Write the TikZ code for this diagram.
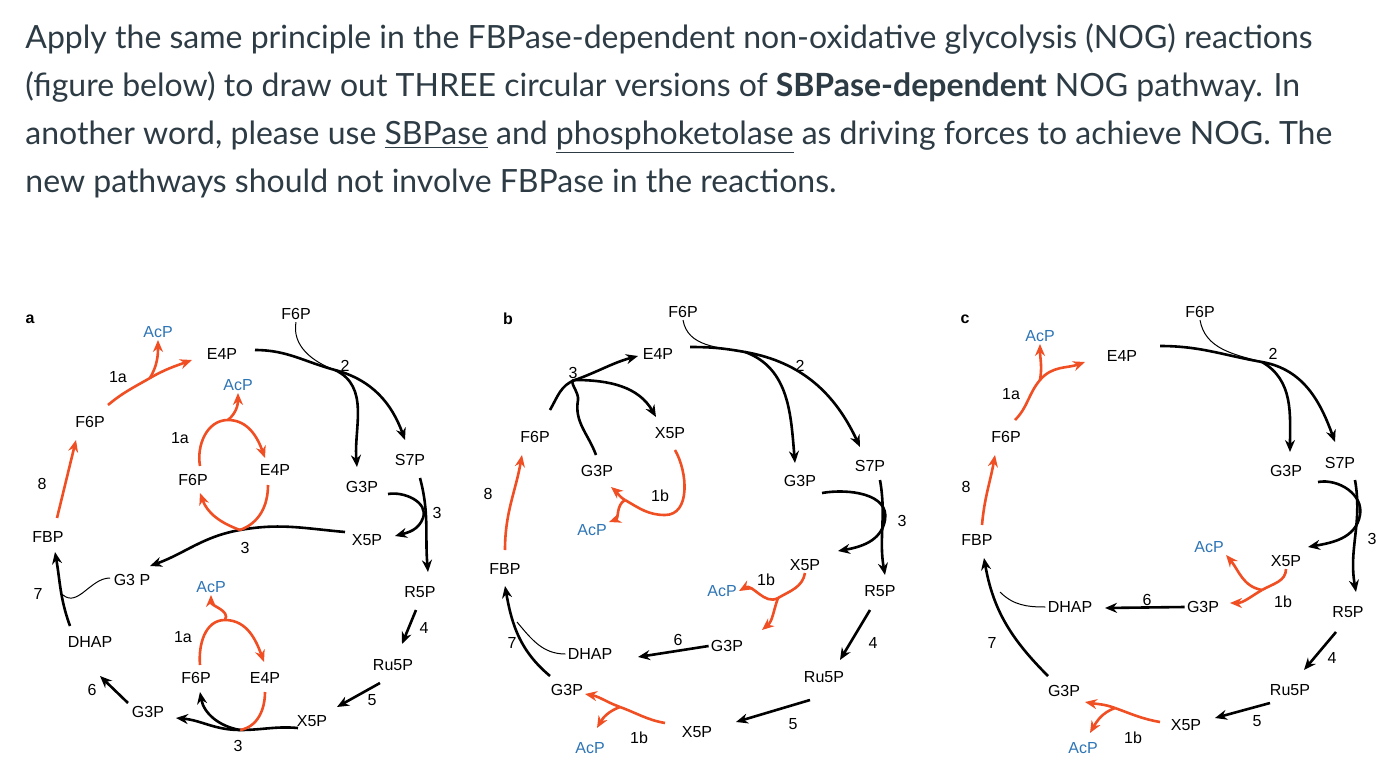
\documentclass[tikz,border=0pt]{standalone}
\usepackage{fontspec}
\setmainfont{Lato}
\newfontfamily\lab{Liberation Sans}
\usetikzlibrary{arrows.meta}
\definecolor{org}{HTML}{F04E23}
\definecolor{acb}{HTML}{2E75B6}
\definecolor{txt}{HTML}{2D3B45}
\begin{document}
\begin{tikzpicture}[x=0.5pt,y=-0.5pt,
  t/.style={font=\lab\fontsize{8}{9}\selectfont,inner sep=1pt},
  ac/.style={t,text=acb},
  pl/.style={font=\lab\bfseries\fontsize{8}{9}\selectfont,inner sep=0pt},
  ttl/.style={anchor=base west,inner sep=0pt,text=txt,font=\fontsize{16}{18}\selectfont},
  blk/.style={line width=1.3pt,-{Stealth[length=6pt,width=5pt]}},
  blkn/.style={line width=1.3pt},
  orn/.style={line width=1.3pt,draw=org,-{Stealth[length=6pt,width=5pt]}},
  ornn/.style={line width=1.3pt,draw=org},
  thin/.style={line width=0.5pt}]
\useasboundingbox (0,0) rectangle (1388,776);
\fill[white] (0,0) rectangle (1388,776);
% title
\node[ttl] (l1) at (25,48) {Apply the same principle in the FBPase-dependent non-oxidative glycolysis (NOG) reactions};
\node[ttl] (l2) at (25,96) {(figure below) to draw out THREE circular versions of \textbf{SBPase-dependent} NOG pathway. In};
\node[ttl] (l3) at (25,144) {another word, please use \underline{SBPase} and \underline{phosphoketolase} as driving forces to achieve NOG. The};
\node[ttl] (l4) at (25,192) {new pathways should not involve FBPase in the reactions.};
% ================= panel a
\node[pl] (pa) at (30,319) {a};
\node[ac] (aAc1) at (158,332) {AcP};
\node[t] (aE1) at (222,354) {E4P};
\node[t] (aFt) at (296,314) {F6P};
\node[t] (a2) at (345,366) {2};
\node[t] (a1a1) at (118,377) {1a};
\node[ac] (aAc2) at (238,385) {AcP};
\node[t] (aF1) at (90,422) {F6P};
\node[t] (a1a2) at (180,438) {1a};
\node[t] (aF2) at (193,480) {F6P};
\node[t] (aE2) at (275,470) {E4P};
\node[t] (aS7) at (410,460) {S7P};
\node[t] (aG1) at (362,487) {G3P};
\node[t] (a8) at (42,484) {8};
\node[t] (a3a) at (437,513) {3};
\node[t] (aFBP) at (48,537) {FBP};
\node[t] (aX1) at (367,540) {X5P};
\node[t] (a3b) at (245,548) {3};
\node[t] (aG2) at (132,580) {G3 P};
\node[t] (a7) at (38,594) {7};
\node[ac] (aAc3) at (211,587) {AcP};
\node[t] (aR5) at (420,592) {R5P};
\node[t] (a1a3) at (183,637) {1a};
\node[t] (a4) at (424,628) {4};
\node[t] (aDH) at (90,642) {DHAP};
\node[t] (aF3) at (196,678) {F6P};
\node[t] (aE3) at (265,678) {E4P};
\node[t] (aRu) at (393,665) {Ru5P};
\node[t] (a6) at (92,690) {6};
\node[t] (a5) at (372,700) {5};
\node[t] (aG3) at (148,712) {G3P};
\node[t] (aX2) at (312,721) {X5P};
\node[t] (a3c) at (238,746) {3};
\coordinate (aj2) at (335,370);
\draw[blkn] (255,350) to[out=0,in=165] (aj2);
\draw[blk] (aj2) to[out=-15,in=110] (405,440);
\draw[blk] (aj2) to[out=-25,in=95] (357,467);
\draw[thin] (aFt.south) to[out=-100,in=160] (aj2);
\draw[blk] (420,478) to[out=-75,in=95] (428,572);
\draw[blk] (388,494) to[out=10,in=70] (423,518) to[out=-110,in=15] (395,536);
\coordinate (aj3) at (240,530);
\draw[blk] (345,532) to[out=175,in=10] (aj3) to[out=-170,in=20] (150,566);
\draw[blk] (416,610) -- (402,644);
\draw[blk] (380,683) -- (337,707);
\coordinate (aj4) at (240,730);
\draw[blk] (298,728) to[out=175,in=0] (aj4) to[out=180,in=-5] (176,718);
\draw[blk] (128,703) -- (100,676);
\draw[blk] (70,626) to[out=110,in=-80] (55,552);
\draw[thin] (110,578) to[out=180,in=-40] (63,595);
\draw[orn] (57,518) -- (76,440);
\coordinate (aj1) at (150,378);
\draw[orn] (108,405) to[out=40,in=-150] (aj1) to[out=30,in=-160] (192,360);
\draw[orn] (aj1) to[out=60,in=-90] (aAc1.south);
% inner loop 1
\coordinate (aj5) at (228,420);
\draw[orn] (200,466) to[out=100,in=180] (aj5) to[out=0,in=110] (265,458);
\draw[orn] (aj5) to[out=40,in=-90] (aAc2.south);
\draw[ornn] (268,485) to[out=-90,in=20] (aj3);
\draw[orn] (aj3) to[out=160,in=-70] (200,493);
% inner loop 2
\coordinate (aj6) at (225,620);
\draw[orn] (200,665) to[out=95,in=180] (aj6) to[out=0,in=110] (264,662);
\draw[orn] (aj6) to[out=60,in=-90] (aAc3.south);
\draw[ornn] (265,692) to[out=-90,in=10] (aj4);
\draw[blk] (aj4) to[out=170,in=-80] (200,692);
% ================= panel b
\node[pl] (pb) at (508,319) {b};
\node[t] (bFt) at (683,312) {F6P};
\node[t] (bE) at (658,354) {E4P};
\node[t] (b3a) at (573,373) {3};
\node[t] (b2) at (800,366) {2};
\node[t] (bX1) at (670,433) {X5P};
\node[t] (bF) at (535,437) {F6P};
\node[t] (bG1) at (597,471) {G3P};
\node[t] (bS7) at (870,466) {S7P};
\node[t] (bG2) at (800,481) {G3P};
\node[t] (b1b1) at (660,496) {1b};
\node[t] (b8) at (488,494) {8};
\node[ac] (bAc1) at (592,530) {AcP};
\node[t] (b3b) at (902,521) {3};
\node[t] (bX2) at (805,565) {X5P};
\node[t] (bFBP) at (505,569) {FBP};
\node[t] (b1b2) at (766,580) {1b};
\node[ac] (bAc2) at (722,591) {AcP};
\node[t] (bR5) at (880,591) {R5P};
\node[t] (b7) at (512,643) {7};
\node[t] (b6) at (678,640) {6};
\node[t] (bG3) at (727,646) {G3P};
\node[t] (bDH) at (590,654) {DHAP};
\node[t] (b4) at (873,643) {4};
\node[t] (bRu) at (824,677) {Ru5P};
\node[t] (bG4) at (567,690) {G3P};
\node[t] (b5) at (793,724) {5};
\node[t] (b1b3) at (639,738) {1b};
\node[t] (bX3) at (697,732) {X5P};
\node[ac] (bAc3) at (590,748) {AcP};
\coordinate (bj2) at (745,352);
\draw[blkn] (690,347) to[out=0,in=170] (bj2);
\draw[blk] (bj2) to[out=-10,in=115] (860,447);
\draw[blk] (bj2) to[out=-20,in=95] (795,463);
\draw[thin] (bFt.south) to[out=-80,in=170] (bj2);
\draw[blk] (880,480) to[out=-80,in=100] (885,575);
\draw[blk] (822,493) to[out=10,in=80] (885,520) to[out=-100,in=10] (838,551);
\coordinate (bj3) at (575,380);
\draw[blkn] (596,455) to[out=110,in=-100] (578,400) to[out=80,in=180] (bj3);
\draw[blk] (550,410) to[out=60,in=-160] (bj3) to[out=20,in=-165] (638,356);
\draw[blk] (bj3) to[out=0,in=120] (656,417);
\coordinate (bj1) at (625,500);
\draw[ornn] (675,450) to[out=-60,in=0] (665,515) to[out=180,in=-30] (bj1);
\draw[orn] (bj1) to[out=150,in=-40] (611,487);
\draw[orn] (bj1) to[out=-150,in=20] (bAc1.north east);
\coordinate (bj4) at (778,598);
\draw[ornn] (bX2.south) to[out=-100,in=30] (bj4);
\draw[orn] (bj4) to[out=-150,in=30] (bAc2.east);
\draw[orn] (bj4) to[out=-110,in=40] (762,630);
\draw[blk] (bG3.west) -- (638,657);
\draw[blk] (550,676) to[out=140,in=-80] (505,586);
\draw[thin] (bDH.west) to[out=180,in=-50] (517,622);
\draw[orn] (505,550) to[out=90,in=-100] (522,455);
\draw[blk] (870,610) -- (840,660);
\draw[blk] (810,700) -- (736,722);
\coordinate (bj5) at (620,707);
\draw[ornn] (665,723) to[out=170,in=-20] (bj5);
\draw[orn] (bj5) to[out=160,in=-10] (585,694);
\draw[orn] (bj5) to[out=-160,in=60] (597,728);
% ================= panel c
\node[pl] (pc) at (965,319) {c};
\node[t] (cFt) at (1200,312) {F6P};
\node[ac] (cAc1) at (1040,336) {AcP};
\node[t] (cE) at (1122,356) {E4P};
\node[t] (c2) at (1273,354) {2};
\node[t] (c1a) at (1011,394) {1a};
\node[t] (cF) at (1006,437) {F6P};
\node[t] (cS7) at (1340,463) {S7P};
\node[t] (cG1) at (1286,471) {G3P};
\node[t] (c8) at (966,487) {8};
\node[t] (c3) at (1372,539) {3};
\node[t] (cFBP) at (977,540) {FBP};
\node[ac] (cAc2) at (1209,547) {AcP};
\node[t] (cX1) at (1286,561) {X5P};
\node[t] (cDH) at (1070,607) {DHAP};
\node[t] (c6) at (1147,600) {6};
\node[t] (cG2) at (1203,607) {G3P};
\node[t] (c1b1) at (1283,602) {1b};
\node[t] (cR5) at (1348,612) {R5P};
\node[t] (c7) at (992,643) {7};
\node[t] (c4) at (1332,658) {4};
\node[t] (cRu) at (1290,690) {Ru5P};
\node[t] (cG3) at (1064,691) {G3P};
\node[t] (c5) at (1257,721) {5};
\node[t] (cX2) at (1186,725) {X5P};
\node[t] (c1b2) at (1133,738) {1b};
\node[ac] (cAc3) at (1083,748) {AcP};
\coordinate (cj2) at (1262,362);
\draw[blkn] (1160,346) to[out=0,in=170] (cj2);
\draw[blk] (cj2) to[out=-10,in=110] (1335,442);
\draw[blk] (cj2) to[out=-30,in=90] (1290,452);
\draw[thin] (cFt.south) to[out=-80,in=165] (cj2);
\draw[blk] (1355,480) to[out=-80,in=100] (1356,592);
\draw[blk] (1318,482) to[out=10,in=80] (1360,515) to[out=-100,in=10] (1308,547);
\draw[blk] (1336,632) -- (1304,670);
\draw[blk] (1270,703) -- (1215,718);
\coordinate (cj4) at (1115,708);
\draw[ornn] (1160,722) to[out=170,in=-20] (cj4);
\draw[orn] (cj4) to[out=160,in=-10] (1085,702);
\draw[orn] (cj4) to[out=-160,in=60] (1090,733);
\draw[blk] (1048,676) to[out=135,in=-80] (984,558);
\draw[thin] (cDH.west) to[out=180,in=-45] (1000,592);
\draw[orn] (982,525) to[out=85,in=-100] (995,455);
\coordinate (cj1) at (1040,380);
\draw[orn] (1015,420) to[out=45,in=-130] (cj1) to[out=50,in=-160] (1085,362);
\draw[orn] (cj1) to[out=80,in=-90] (cAc1.south);
\draw[blk] (cG2.west) -- (1105,608);
\coordinate (cj3) at (1262,590);
\draw[ornn] (cX1.south) to[out=-90,in=30] (cj3);
\draw[orn] (cj3) to[out=-150,in=0] (1230,603);
\draw[orn] (cj3) to[out=170,in=-50] (cAc2.south east);
\end{tikzpicture}
\end{document}
